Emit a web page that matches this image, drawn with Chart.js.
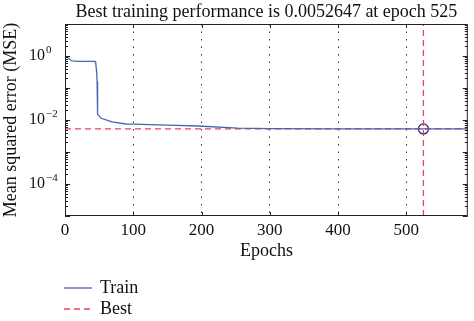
<!DOCTYPE html>
<html>
<head>
<meta charset="utf-8">
<script src="https://cdn.jsdelivr.net/npm/chart.js@4.4.0/dist/chart.umd.min.js"></script>
<style>
html, body { margin: 0; padding: 0; background: #fff; }
#wrap { width: 474px; height: 321px; }
</style>
</head>
<body>
<div id="wrap"><canvas id="perf"></canvas></div>
<script>
// training record
const epochs = [0, 4, 10, 20, 30, 44, 45, 46.5, 47, 47.5, 48, 53, 69, 89, 100, 150, 195, 253, 300, 400, 500, 525, 590];
const trainMse = [1.0, 0.9, 0.7, 0.68, 0.68, 0.68, 0.6, 0.3, 0.16, 0.05, 0.015, 0.0113, 0.0088, 0.0075, 0.0074, 0.0069, 0.0065, 0.0056, 0.0054, 0.0053, 0.00528, 0.0052647, 0.00526];
const bestEpoch = 525;
const bestPerf = 0.0052647;
const xTicks = [0, 100, 200, 300, 400, 500];
const yTicks = [1e-4, 1e-2, 1];
const yTickExp = ['\u22124', '\u22122', '0'];
const xRange = [0, 590];
const yRange = [1e-5, 10];

const serif = "'Liberation Serif', 'DejaVu Serif', serif";
const trainColor = '#4a64ae';
const bestColor = '#e64258';

const decor = {
	id: 'decor',
	afterDraw(chart) {
		const ctx = chart.ctx;
		const a = chart.chartArea;
		const xs = chart.scales.x;
		const ys = chart.scales.y;
		ctx.save();

		// title
		ctx.fillStyle = '#111';
		ctx.font = '18px ' + serif;
		ctx.textAlign = 'center';
		ctx.textBaseline = 'middle';
		ctx.fillText('Best training performance is ' + bestPerf + ' at epoch ' + bestEpoch, (a.left + a.right) / 2, 12);

		// frame
		ctx.strokeStyle = '#222';
		ctx.lineWidth = 1;
		ctx.strokeRect(a.left + 0.5, a.top + 0.5, a.right - a.left - 1, a.bottom - a.top - 1);

		// inner tick marks
		ctx.beginPath();
		xTicks.forEach(v => {
			const px = Math.round(xs.getPixelForValue(v)) + 0.5;
			ctx.moveTo(px, a.bottom); ctx.lineTo(px, a.bottom - 4);
			ctx.moveTo(px, a.top); ctx.lineTo(px, a.top + 4);
		});
		for (let d = -5; d <= 0; d++) {
			for (let m = 1; m <= 9; m++) {
				const v = m * Math.pow(10, d);
				const py = Math.round(ys.getPixelForValue(v)) + 0.5;
				const len = m === 1 ? 5 : 3;
				ctx.moveTo(a.left, py); ctx.lineTo(a.left + len, py);
				ctx.moveTo(a.right, py); ctx.lineTo(a.right - len, py);
			}
		}
		ctx.stroke();

		// y tick labels 10^n
		yTicks.forEach((v, i) => {
			const py = ys.getPixelForValue(v);
			ctx.textAlign = 'left';
			ctx.font = '16px ' + serif;
			ctx.fillText('10', 29, py);
			const w = ctx.measureText('10').width;
			ctx.font = '11px ' + serif;
			ctx.fillText(yTickExp[i], 29 + w + 1, py - 6);
		});

		// legend
		const items = [
			{ text: 'Train', color: trainColor, dash: [] },
			{ text: 'Best', color: bestColor, dash: [6, 4] }
		];
		items.forEach((it, i) => {
			const y = 288 + i * 21;
			ctx.strokeStyle = it.color;
			ctx.lineWidth = 1.3;
			ctx.setLineDash(it.dash);
			ctx.beginPath();
			ctx.moveTo(64, y); ctx.lineTo(92, y);
			ctx.stroke();
			ctx.setLineDash([]);
			ctx.fillStyle = '#111';
			ctx.font = '18px ' + serif;
			ctx.textAlign = 'left';
			ctx.fillText(it.text, 100, y);
		});
		ctx.restore();
	}
};

new Chart(document.getElementById('perf'), {
	type: 'scatter',
	data: {
		datasets: [{
			label: 'Train',
			data: epochs.map((e, i) => ({ x: e, y: trainMse[i] })),
			showLine: true,
			borderColor: trainColor,
			borderWidth: 1.3,
			pointRadius: 0,
		}, {
			label: 'Best',
			data: [{ x: xRange[0], y: bestPerf }, { x: xRange[1], y: bestPerf }],
			showLine: true,
			borderColor: bestColor,
			borderDash: [6, 4],
			borderWidth: 1.3,
			pointRadius: 0,
		}, {
			label: 'Best epoch',
			data: [{ x: bestEpoch, y: yRange[0] }, { x: bestEpoch, y: yRange[1] }],
			showLine: true,
			borderColor: bestColor,
			borderDash: [6, 4],
			borderWidth: 1.3,
			pointRadius: 0,
		}, {
			label: 'Best point',
			data: [{ x: bestEpoch, y: bestPerf }],
			pointRadius: 5,
			pointBorderWidth: 1.2,
			pointBorderColor: '#1c1c6a',
			pointBackgroundColor: 'rgba(0,0,0,0)',
		}],
	},
	options: {
		responsive: true,
		maintainAspectRatio: false,
		animation: false,
		layout: { padding: { top: 24, bottom: 55, left: 0, right: 1 } },
		plugins: {
			legend: { display: false },
			tooltip: { enabled: false },
		},
		scales: {
			x: {
				type: 'linear',
				min: xRange[0],
				max: xRange[1],
				afterBuildTicks: s => { s.ticks = xTicks.map(v => ({ value: v })) },
				afterFit: s => { s.height = 50 },
				ticks: { color: '#111', font: { family: serif, size: 17 }, padding: 4, maxRotation: 0 },
				grid: { color: '#333', lineWidth: 1, drawTicks: false },
				border: { display: false, dash: [1.5, 6] },
				title: { display: true, text: 'Epochs', color: '#111', font: { family: serif, size: 18 }, padding: { top: 3 } },
			},
			y: {
				type: 'logarithmic',
				min: yRange[0],
				max: yRange[1],
				afterBuildTicks: s => { s.ticks = yTicks.map(v => ({ value: v })) },
				afterFit: s => { s.width = 65 },
				ticks: { display: false },
				grid: { display: false },
				border: { display: false },
				title: { display: true, text: 'Mean squared error (MSE)', color: '#111', font: { family: serif, size: 18 }, padding: { top: 0, bottom: 0 } },
			},
		},
	},
	plugins: [decor],
});
</script>
</body>
</html>
